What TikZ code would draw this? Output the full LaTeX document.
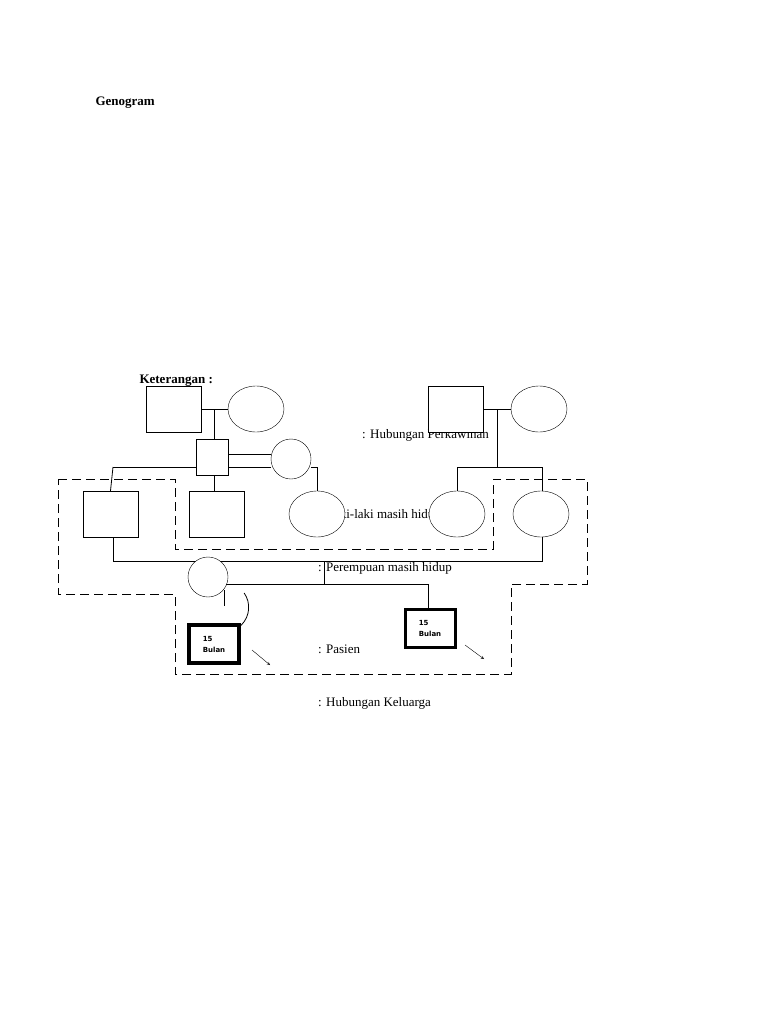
\documentclass[tikz,border=0pt]{standalone}
\usepackage{fontspec}
\setmainfont{Liberation Serif}
\newfontfamily\smallsans{DejaVu Sans}
\usetikzlibrary{positioning}
\tikzset{
  male/.style={draw,fill=white,minimum width=55pt,minimum height=46pt,inner sep=0pt},
  female/.style={draw,fill=white,ellipse,minimum width=56pt,minimum height=46pt,inner sep=0pt},
  patient/.style={draw,fill=white,line width=3.5pt,minimum width=50pt,minimum height=38pt,inner sep=0pt,
    font=\smallsans\fontsize{7}{11}\selectfont\bfseries,align=left},
  note/.style={anchor=west,inner sep=0pt,font=\fontsize{13}{15}\selectfont},
  rel/.style={line width=0.8pt},
  famline/.style={dashed,dash pattern=on 9pt off 5pt,line width=0.8pt}
}
\usetikzlibrary{shapes.geometric}
\begin{document}
\begin{tikzpicture}[x=1pt,y=-1pt]
    \useasboundingbox (0,0) rectangle (768,1024);
    \node[anchor=west,font=\bfseries\fontsize{13}{15}\selectfont] (title) at (92,103) {Genogram};
    \node[anchor=west,font=\bfseries\fontsize{13}{15}\selectfont] (ket) at (136,381) {Keterangan :};
    % legend texts (partly hidden)
    \node[note] (t1) at (362,435) {: Hubungan Perkawinan};
    \node[note] (t2) at (318,515) {: Laki-laki masih hidup};
    % family outline
    \draw[famline] (58,479) -- (175,479) -- (175,549) -- (493,549) -- (493,479) -- (587,479)
      -- (587,584) -- (511,584) -- (511,674) -- (175,674) -- (175,594) -- (58,594) -- cycle;
    % first generation
    \node[male] (gf1) at (173.5,409) {};
    \node[female] (gm1) at (256,409) {};
    \node[male] (gf2) at (455.5,409) {};
    \node[female] (gm2) at (539,409) {};
    \draw[rel] (gf1.east) -- (gm1.west);
    \draw[rel] (gf2.east) -- (gm2.west);
    % second generation
    \node[male,minimum width=32pt,minimum height=36pt] (f) at (212,457) {};
    \node[female,circle,minimum size=40pt] (w) at (291,459) {};
    \draw[rel] (214,409) -- (214,439);
    \draw[rel] (228,454) -- (271,454);
    \draw[rel] (113,467) -- (196,467) (228,467) -- (271,467);
    \draw[rel] (311,467) -- (317,467) -- (317,491);
    \draw[rel] (497,409) -- (497,467) (457,467) -- (542,467) -- (542,491) (457,467) -- (457,491);
    \node[male] (u1) at (110.5,514) {};
    \node[male] (u2) at (216.5,514) {};
    \node[female] (a1) at (317,514) {};
    \node[female] (a2) at (457,514) {};
    \node[female] (mo) at (541,514) {};
    \draw[rel] (113,467) -- (u1.north);
    \draw[rel] (214,475) -- (214,491);
    % parents
    \draw[rel] (113,537) -- (113,561) -- (542,561) -- (542,537);
    \node[note] (t3) at (318,568) {: Perempuan masih hidup};
    \draw[rel] (324,561) -- (324,584);
    \node[female,circle,minimum size=40pt] (m) at (208,577) {};
    \draw[rel] (226,584) -- (428,584) -- (428,608);
    \draw[rel] (224,590) -- (224,606);
    \draw[rel] (224,606) circle[radius=0pt];
    \draw[rel] (206,625) arc[start angle=135,end angle=-35,radius=25];
    % patients
    \node[patient] (p1) at (214,644) {15\\Bulan};
    \node[patient,line width=3pt] (p2) at (430,628.5) {15\\Bulan};
    \coordinate (a1s) at (252,650); \coordinate (a1e) at (270,665);
    \coordinate (a2s) at (465,645); \coordinate (a2e) at (484,659);
    \draw[-stealth,line width=0.4pt] (a1s) -- (a1e);
    \draw[-stealth,line width=0.4pt] (a2s) -- (a2e);
    \node[note] (t4) at (318,649) {: Pasien};
    \node[note] (t5) at (318,703) {: Hubungan Keluarga};
\end{tikzpicture}
\end{document}
